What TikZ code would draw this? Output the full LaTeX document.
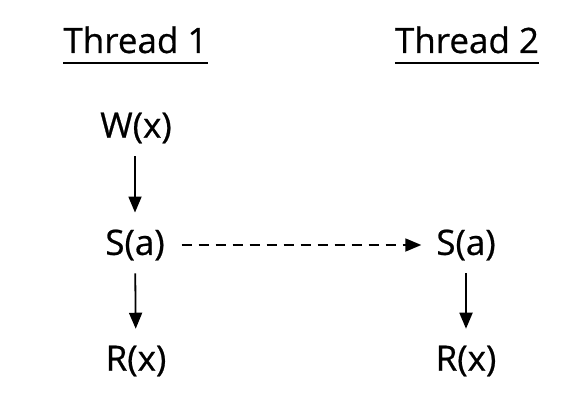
\documentclass[tikz,border=0pt]{standalone}
\usepackage{fontspec}
\setmainfont{Open Sans}
\newfontfamily\lblfont{Open Sans}[FakeBold=0.6]
\usetikzlibrary{arrows.meta}
\begin{document}
\begin{tikzpicture}[x=1pt,y=-1pt,
  lbl/.style={inner sep=0pt,outer sep=0pt,font=\lblfont\fontsize{35}{40}\selectfont},
  arr/.style={line width=1.8pt,-{Triangle[width=13pt,length=16pt]}},
  varr/.style={arr,shorten <=13pt,shorten >=17pt},
  harr/.style={arr,dashed,dash pattern=on 10pt off 7pt,shorten <=17pt,shorten >=15pt}]
\useasboundingbox[fill=white] (0,0) rectangle (562,406);
\node[lbl,anchor=base] (t1) at (135.5,53) {Thread 1};
\node[lbl,anchor=base] (t2) at (467,53) {Thread 2};
\draw[line width=2.6pt] ([yshift=-10pt]t1.base west) -- ([yshift=-10pt]t1.base east);
\draw[line width=2.6pt] ([yshift=-10pt]t2.base west) -- ([yshift=-10pt]t2.base east);
\node[lbl] (w) at (136,128) {W(x)};
\node[lbl] (s1) at (135,245) {S(a)};
\node[lbl] (s2) at (466,245) {S(a)};
\node[lbl] (r1) at (136,361) {R(x)};
\node[lbl] (r2) at (466,361) {R(x)};
\draw[varr] (w.south -| s1) -- (s1);
\draw[varr] (s1) -- (r1);
\draw[varr] (s2) -- (r2);
\draw[harr] (s1) -- (s2);
\end{tikzpicture}
\end{document}
